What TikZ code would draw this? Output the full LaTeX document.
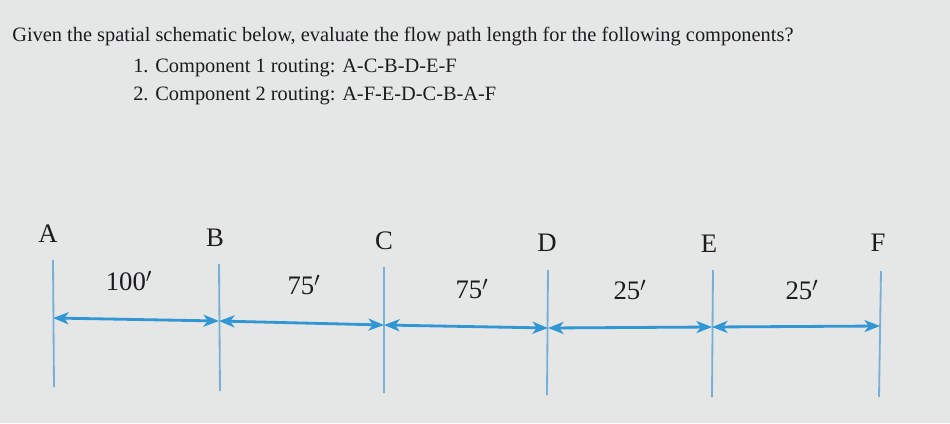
\documentclass[tikz,border=0pt]{standalone}
\usepackage{fontspec}
\setmainfont{Liberation Serif}
\usepackage{tikz}
\usetikzlibrary{arrows.meta}

\definecolor{screen}{RGB}{229,230,230}
\definecolor{dimblue}{RGB}{48,150,212}
\definecolor{tickblue}{RGB}{118,176,216}
\definecolor{ink}{RGB}{28,28,30}

\begin{document}
\begin{tikzpicture}[x=0.025cm,y=-0.025cm,
    question/.style={anchor=base west,inner sep=0pt,text=ink,font=\fontsize{14.5}{16}\selectfont},
    station/.style={inner sep=0pt,text=ink,font=\fontsize{19}{21}\selectfont},
    span/.style={inner sep=0pt,text=ink,font=\fontsize{19}{21}\selectfont},
    tick/.style={draw=tickblue,line width=1.3pt},
    dimline/.style={draw=dimblue,line width=2pt,
      {Stealth[length=11pt,width=8.5pt,inset=3pt]}-{Stealth[length=11pt,width=8.5pt,inset=3pt]}}]
    \fill[screen] (0,0) rectangle (950,423);

    % question text
    \node[question] (q) at (12,41) {Given the spatial schematic below, evaluate the flow path length for the following components?};
    \node[question] (r1) at (133,72) {1. Component 1 routing: A-C-B-D-E-F};
    \node[question] (r2) at (133,100) {2. Component 2 routing: A-F-E-D-C-B-A-F};

    % stations
    \node[station] (A) at (48,234) {A};
    \node[station] (B) at (215,238) {B};
    \node[station] (C) at (384,241) {C};
    \node[station] (D) at (547,243) {D};
    \node[station] (E) at (709,244) {E};
    \node[station] (F) at (878,243) {F};

    \coordinate (At) at (53,260);  \coordinate (Ab) at (54,387);
    \coordinate (Bt) at (219,264); \coordinate (Bb) at (220,391);
    \coordinate (Ct) at (384,267); \coordinate (Cb) at (384,393);
    \coordinate (Dt) at (548,270); \coordinate (Db) at (547,395);
    \coordinate (Et) at (713,270); \coordinate (Eb) at (712,397);
    \coordinate (Ft) at (881,271); \coordinate (Fb) at (879,397);

    \draw[tick] (At) -- (Ab);
    \draw[tick] (Bt) -- (Bb);
    \draw[tick] (Ct) -- (Cb);
    \draw[tick] (Dt) -- (Db);
    \draw[tick] (Et) -- (Eb);
    \draw[tick] (Ft) -- (Fb);

    % dimension arrows
    \coordinate (Am) at (53,318);
    \coordinate (Bm) at (219,321);
    \coordinate (Cm) at (384,325);
    \coordinate (Dm) at (548,328);
    \coordinate (Em) at (712,327);
    \coordinate (Fm) at (880,326);

    \draw[dimline] (Am) -- (Bm);
    \draw[dimline] (Bm) -- (Cm);
    \draw[dimline] (Cm) -- (Dm);
    \draw[dimline] (Dm) -- (Em);
    \draw[dimline] (Em) -- (Fm);

    % lengths
    \node[span] (ab) at (129,281) {100$'$};
    \node[span] (bc) at (304,285) {75$'$};
    \node[span] (cd) at (472,289) {75$'$};
    \node[span] (de) at (630,290) {25$'$};
    \node[span] (ef) at (802,290) {25$'$};
  \end{tikzpicture}
\end{document}
